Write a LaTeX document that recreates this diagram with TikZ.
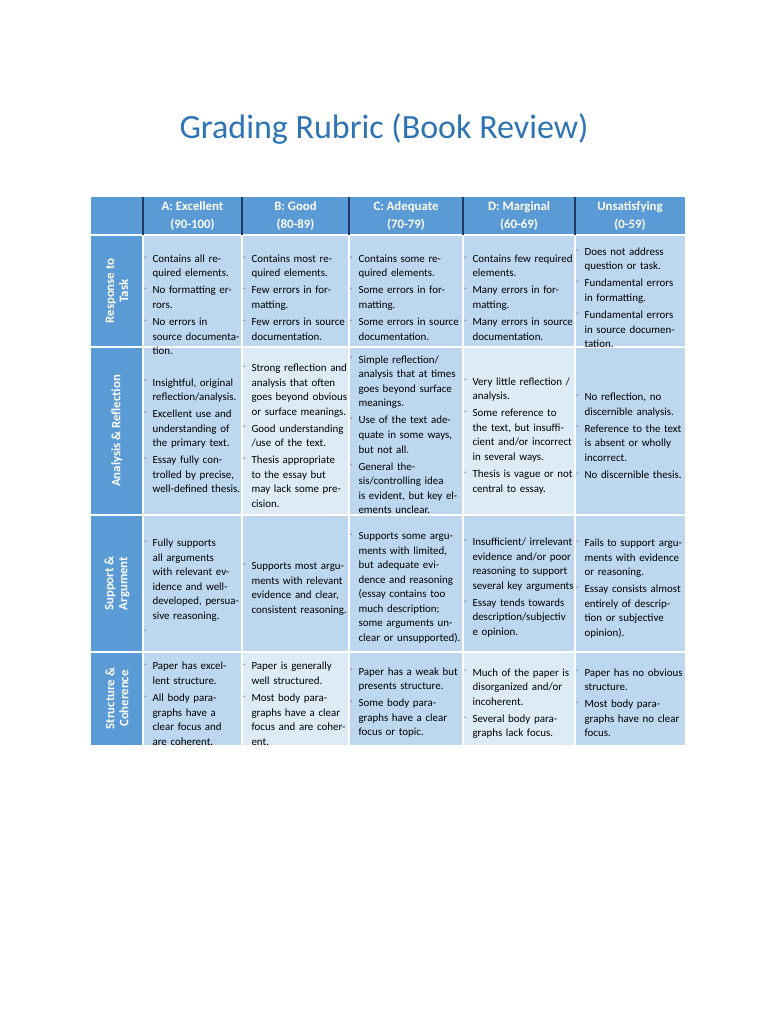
\documentclass[tikz,border=0pt]{standalone}
\usepackage{fontspec}
\setmainfont{Carlito}
\definecolor{hdr}{HTML}{5B9BD5}
\definecolor{dk}{HTML}{BDD7EE}
\definecolor{lt}{HTML}{DDEBF7}
\definecolor{ttl}{HTML}{2E74B5}
\definecolor{hline}{HTML}{1F3864}
\newcommand\bi[1]{\par\noindent\hangindent=6.2pt\hangafter=1\makebox[6.2pt][l]{\raisebox{2.5pt}{\tiny -}}#1\par}
\tikzset{
 cell/.style={inner sep=0pt,text width=#1,align=left,font=\fontsize{8.2}{10.9}\selectfont,text=black,execute at begin node={\setlength{\parskip}{1.9pt}}},
 hd/.style={text=white,font=\fontsize{9.6}{13.5}\selectfont\bfseries,align=center},
 rh/.style={text=white,font=\fontsize{9.6}{10.5}\selectfont\bfseries,align=center,rotate=90}
}
\begin{document}
\begin{tikzpicture}[x=0.75pt,y=-0.75pt]
\useasboundingbox[fill=white] (0,0) rectangle (768,1024);
\node[text=ttl,font=\fontsize{25.5}{30}\selectfont] (title) at (384,129) {Grading Rubric (Book Review)};
% backgrounds
\fill[hdr] (91,197) rectangle (685,235);
\fill[hdr] (91,235) rectangle (143,745);
\fill[dk] (143,235) rectangle (685,347);
\fill[dk] (143,347) rectangle (242,515);
\fill[lt] (242,347) rectangle (349,515);
\fill[dk] (349,347) rectangle (463,515);
\fill[lt] (463,347) rectangle (575,515);
\fill[dk] (575,347) rectangle (685,515);
\fill[dk] (143,515) rectangle (685,652);
\fill[dk] (143,652) rectangle (242,745);
\fill[lt] (242,652) rectangle (349,745);
\fill[dk] (349,652) rectangle (463,745);
\fill[lt] (463,652) rectangle (575,745);
\fill[dk] (575,652) rectangle (685,745);
% grid
\foreach \x in {143,242,349,463,575} \draw[white,line width=0.8pt] (\x,235) -- (\x,745);
\foreach \y in {235,347,515,652} \draw[white,line width=0.8pt] (91,\y) -- (685,\y);
\foreach \x in {143,242,349,463,575} \draw[hline,line width=0.8pt] (\x,197) -- (\x,235);
% headers
\node[hd] (hA) at (192.5,216) {A: Excellent\\(90-100)};
\node[hd] (hB) at (295.5,216) {B: Good\\(80-89)};
\node[hd] (hC) at (406,216) {C: Adequate\\(70-79)};
\node[hd] (hD) at (519,216) {D: Marginal\\(60-69)};
\node[hd] (hE) at (630,216) {Unsatisfying\\(0-59)};
\node[rh] (r1) at (117,291) {Response to\\Task};
\node[rh] (r2) at (117,431) {Analysis \& Reflection};
\node[rh] (r3) at (117,583.5) {Support \&\\Argument};
\node[rh] (r4) at (117,698.5) {Structure \&\\Coherence};
% row 1
\node[cell=72pt,anchor=north west] (a1) at (144,245) {\bi{Contains all required elements.}\bi{No formatting errors.}\bi{No errors in source documentation.}};
\node[cell=78pt,anchor=north west] (b1) at (243,245) {\bi{Contains most required elements.}\bi{Few errors in formatting.}\bi{Few errors in source documentation.}};
\node[cell=83pt,anchor=north west] (c1) at (350,245) {\bi{Contains some required elements.}\bi{Some errors in formatting.}\bi{Some errors in source documentation.}};
\node[cell=82pt,anchor=north west] (d1) at (464,245) {\bi{Contains few required elements.}\bi{Many errors in formatting.}\bi{Many errors in source documentation.}};
\node[cell=80pt,anchor=north west] (e1) at (576,238) {\bi{Does not address question or task.}\bi{Fundamental errors in formatting.}\bi{Fundamental errors in source documentation.}};
% row 2
\node[cell=72pt,anchor=west] (a2) at (144,431) {\bi{Insightful, original reflection/analysis.}\bi{Excellent use and understanding of the primary text.}\bi{Essay fully controlled by precise, well-defined thesis.}};
\node[cell=78pt,anchor=west] (b2) at (243,431) {\bi{Strong reflection and analysis that often goes beyond obvious or surface meanings.}\bi{Good understanding /use of the text.}\bi{Thesis appropriate to the essay but may lack some precision.}};
\node[cell=83pt,anchor=west] (c2) at (350,430) {\bi{Simple reflection/ analysis that at times goes beyond surface meanings.}\bi{Use of the text adequate in some ways, but not all.}\bi{General thesis/controlling idea is evident, but key elements unclear.}};
\node[cell=82pt,anchor=west] (d2) at (464,431) {\bi{Very little reflection / analysis.}\bi{Some reference to the text, but insufficient and/or incorrect in several ways.}\bi{Thesis is vague or not central to essay.}};
\node[cell=80pt,anchor=west] (e2) at (576,431) {\bi{No reflection, no discernible analysis.}\bi{Reference to the text is absent or wholly incorrect.}\bi{No discernible thesis.}};
% row 3
\node[cell=72pt,anchor=west] (a3) at (144,585) {\bi{Fully supports all arguments with relevant evidence and well-developed, persuasive reasoning.}\bi{\strut}};
\node[cell=78pt,anchor=west] (b3) at (243,584) {\bi{Supports most arguments with relevant evidence and clear, consistent reasoning.}};
\node[cell=83pt,anchor=west] (c3) at (350,583) {\bi{Supports some arguments with limited, but adequate evidence and reasoning (essay contains too much description; some arguments unclear or unsupported).}};
\node[cell=82pt,anchor=west] (d3) at (464,583) {\bi{Insufficient/ irrelevant evidence and/or poor reasoning to support several key arguments}\bi{Essay tends towards description/subjectiv e opinion.}};
\node[cell=80pt,anchor=west] (e3) at (576,584) {\bi{Fails to support arguments with evidence or reasoning.}\bi{Essay consists almost entirely of description or subjective opinion).}};
% row 4
\node[cell=72pt,anchor=west] (a4) at (144,699) {\bi{Paper has excellent structure.}\bi{All body paragraphs have a clear focus and are coherent.}};
\node[cell=78pt,anchor=west] (b4) at (243,699) {\bi{Paper is generally well structured.}\bi{Most body paragraphs have a clear focus and are coherent.}};
\node[cell=83pt,anchor=west] (c4) at (350,698) {\bi{Paper has a weak but presents structure.}\bi{Some body paragraphs have a clear focus or topic.}};
\node[cell=82pt,anchor=west] (d4) at (464,699) {\bi{Much of the paper is disorganized and/or incoherent.}\bi{Several body paragraphs lack focus.}};
\node[cell=80pt,anchor=west] (e4) at (576,698) {\bi{Paper has no obvious structure.}\bi{Most body paragraphs have no clear focus.}};
\end{tikzpicture}
\end{document}
